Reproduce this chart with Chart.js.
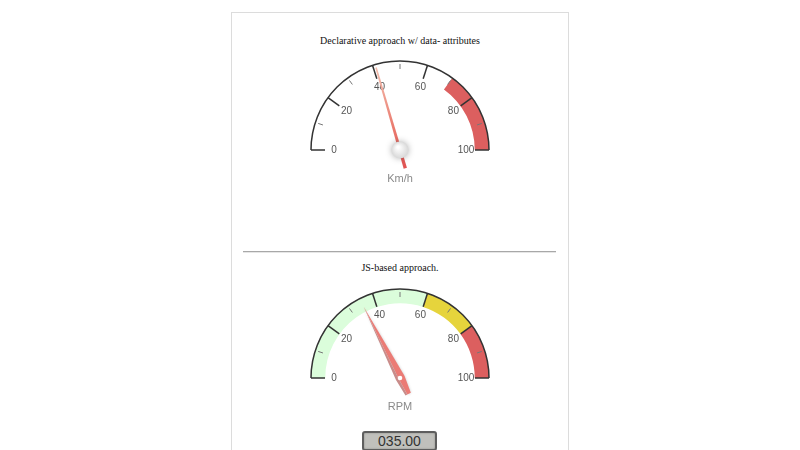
<!DOCTYPE html>
<html><head><meta charset="utf-8">
<script src="https://cdn.jsdelivr.net/npm/chart.js@4/dist/chart.umd.min.js"></script>
<style>
html,body{margin:0;padding:0;background:#fff;width:800px;height:450px;overflow:hidden;}
#box{position:absolute;left:231px;top:12px;width:336px;height:470px;border:1px solid #dcdcdc;}
.title{position:absolute;left:231px;width:338px;text-align:center;font-family:"Liberation Serif","Times New Roman",serif;font-size:10px;line-height:12px;color:#111;}
#sep{position:absolute;left:243px;top:251px;width:313px;height:0;border-top:1px solid #a8a8a8;border-bottom:1px solid #e6e6e6;}
canvas{position:absolute;}
#disp{position:absolute;left:362px;top:431px;width:71px;height:16px;border:2px solid #5e5e5e;border-radius:3px;background:#c0c0bc;text-align:center;font-family:"Liberation Sans",Arial,sans-serif;font-size:14px;line-height:17px;color:#333;box-shadow:inset 0 0 2px rgba(0,0,0,0.3);}
</style></head>
<body>
<div id="box"></div>
<div class="title" style="top:35px">Declarative approach w/ data- attributes</div>
<div id="sep"></div>
<div class="title" style="top:262px">JS-based approach.</div>
<canvas id="g1" width="200" height="170" style="left:300px;top:20px"></canvas>
<canvas id="g2" width="200" height="170" style="left:300px;top:248px"></canvas>
<div id="disp"></div>
<script>
// ---- data ----
const scaleMin = 0;
const scaleMax = 100;
const majorTicks = [0, 20, 40, 60, 80, 100];
const minorTicks = [10, 30, 50, 70, 90];
const tickLabels = ["0", "20", "40", "60", "80", "100"];

const speedUnit = "Km/h";
const speedValue = 41;
const speedBandEdges = [0, 70, 100];
const speedBandColors = ["rgba(0,0,0,0)", "#dc5f5f"];

const rpmUnit = "RPM";
const rpmValue = 35;
const rpmBandEdges = [0, 60, 80, 100];
const rpmBandColors = ["#dbfddb", "#e6d43c", "#dc5f5f"];

// ---- gauge plugin ----
const gaugePlugin = {
  id: 'gauge',
  afterDatasetsDraw(chart, args, o) {
    const arc = chart.getDatasetMeta(0).data[0];
    const cx = arc.x, cy = arc.y, R = arc.outerRadius;
    const ctx = chart.ctx;
    const ang = v => Math.PI + (v - o.min) / (o.max - o.min) * Math.PI;
    const pt = (a, r) => [cx + r * Math.cos(a), cy + r * Math.sin(a)];
    ctx.save();
    // outer arc
    ctx.beginPath();
    ctx.arc(cx, cy, R, Math.PI, 2 * Math.PI);
    ctx.lineWidth = 1.5; ctx.strokeStyle = '#333'; ctx.stroke();
    // major ticks
    o.major.forEach(v => {
      const a = ang(v); const p1 = pt(a, R), p2 = pt(a, R - 14);
      ctx.beginPath(); ctx.moveTo(p1[0], p1[1]); ctx.lineTo(p2[0], p2[1]);
      ctx.lineWidth = 1.5; ctx.strokeStyle = '#333'; ctx.stroke();
    });
    // minor ticks
    o.minor.forEach(v => {
      const a = ang(v); const p1 = pt(a, R - 3), p2 = pt(a, R - 8);
      ctx.beginPath(); ctx.moveTo(p1[0], p1[1]); ctx.lineTo(p2[0], p2[1]);
      ctx.lineWidth = 1; ctx.strokeStyle = '#777'; ctx.stroke();
    });
    // labels
    ctx.font = '10px "Liberation Sans", Arial, sans-serif';
    ctx.fillStyle = '#555'; ctx.textAlign = 'center'; ctx.textBaseline = 'middle';
    o.major.forEach((v, i) => {
      const a = ang(v); const p = pt(a, 66);
      ctx.fillText(o.labels[i], p[0], p[1]);
    });
    // unit
    ctx.font = '11px "Liberation Sans", Arial, sans-serif';
    ctx.fillStyle = '#8a8a8a';
    ctx.fillText(o.unit, cx, cy + 29);
    // needle
    const a = ang(o.value);
    const ux = Math.cos(a), uy = Math.sin(a), nx = -uy, ny = ux;
    if (o.style === 1) {
      const tail = -19, tip = 86;
      const grad = ctx.createLinearGradient(cx + ux * tip, cy + uy * tip, cx + ux * tail, cy + uy * tail);
      grad.addColorStop(0, '#f3c0b0'); grad.addColorStop(0.6, '#ea7a6e'); grad.addColorStop(1, '#e05252');
      ctx.beginPath();
      ctx.moveTo(cx + ux * tip + nx * 0.8, cy + uy * tip + ny * 0.8);
      ctx.lineTo(cx + ux * tail + nx * 1.7, cy + uy * tail + ny * 1.7);
      ctx.lineTo(cx + ux * tail - nx * 1.7, cy + uy * tail - ny * 1.7);
      ctx.lineTo(cx + ux * tip - nx * 0.8, cy + uy * tip - ny * 0.8);
      ctx.closePath(); ctx.fillStyle = grad; ctx.fill();
      // hub
      ctx.save();
      ctx.shadowColor = 'rgba(0,0,0,0.3)'; ctx.shadowBlur = 6;
      const hg = ctx.createRadialGradient(cx - 2, cy - 3, 1, cx, cy, 9);
      hg.addColorStop(0, '#ffffff'); hg.addColorStop(1, '#d6d6d6');
      ctx.beginPath(); ctx.arc(cx, cy, 8.5, 0, 2 * Math.PI);
      ctx.fillStyle = hg; ctx.fill();
      ctx.restore();
    } else {
      const tail = -18, tip = 80;
      ctx.save();
      ctx.shadowColor = 'rgba(0,0,0,0.2)'; ctx.shadowBlur = 3;
      // left (main) part
      ctx.beginPath();
      ctx.moveTo(cx + ux * tip, cy + uy * tip);
      ctx.lineTo(cx + nx * 5, cy + ny * 5);
      ctx.lineTo(cx + ux * tail + nx * 3, cy + uy * tail + ny * 3);
      ctx.lineTo(cx + ux * tail - nx * 1, cy + uy * tail - ny * 1);
      ctx.lineTo(cx - nx * 1.5, cy - ny * 1.5);
      ctx.closePath(); ctx.fillStyle = '#eb7b75'; ctx.fill();
      ctx.restore();
      // right (shaded) strip
      ctx.beginPath();
      ctx.moveTo(cx + ux * tip, cy + uy * tip);
      ctx.lineTo(cx - nx * 1.5, cy - ny * 1.5);
      ctx.lineTo(cx + ux * tail - nx * 1, cy + uy * tail - ny * 1);
      ctx.lineTo(cx + ux * tail - nx * 3, cy + uy * tail - ny * 3);
      ctx.lineTo(cx - nx * 4.5, cy - ny * 4.5);
      ctx.closePath(); ctx.fillStyle = '#c98c8a'; ctx.fill();
      ctx.beginPath(); ctx.arc(cx, cy, 2.3, 0, 2 * Math.PI);
      ctx.fillStyle = '#fff'; ctx.fill();
    }
    ctx.restore();
  }
};

function makeGauge(id, edges, colors, value, unit, style) {
  const segs = edges.slice(1).map((e, i) => e - edges[i]);
  return new Chart(document.getElementById(id), {
    type: 'doughnut',
    data: { datasets: [{ data: segs, backgroundColor: colors, borderWidth: 0 }] },
    options: {
      responsive: false, animation: false,
      circumference: 180, rotation: -90, cutout: '84%',
      layout: { padding: { left: 11, right: 11, top: 41, bottom: 40 } },
      events: [],
      plugins: {
        legend: { display: false }, tooltip: { enabled: false },
        gauge: { min: scaleMin, max: scaleMax, major: majorTicks, minor: minorTicks, labels: tickLabels, value: value, unit: unit, style: style }
      }
    },
    plugins: [gaugePlugin]
  });
}
makeGauge('g1', speedBandEdges, speedBandColors, speedValue, speedUnit, 1);
makeGauge('g2', rpmBandEdges, rpmBandColors, rpmValue, rpmUnit, 2);
document.getElementById('disp').textContent = String(rpmValue.toFixed(2)).padStart(6, '0');
</script>
</body></html>
